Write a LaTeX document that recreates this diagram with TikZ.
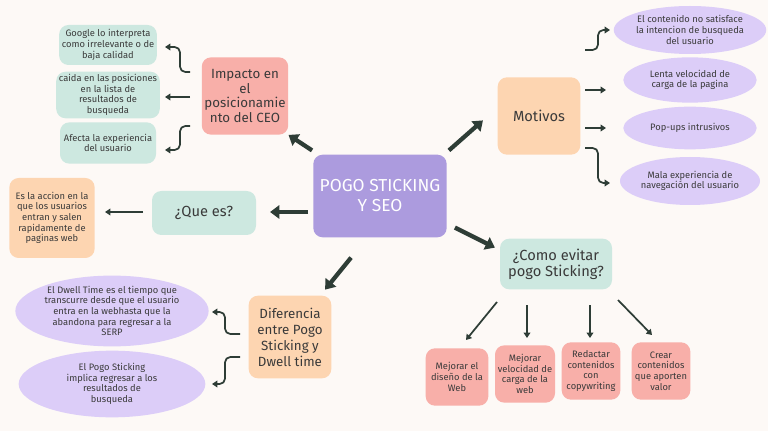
\documentclass[tikz,border=0pt]{standalone}
\usepackage{fontspec}
\setmainfont{Fira Sans}
\usetikzlibrary{arrows.meta,shapes.geometric}
\definecolor{bg}{HTML}{FDF9F6}
\definecolor{teal}{HTML}{CDE8E0}
\definecolor{pinkb}{HTML}{F8AFA9}
\definecolor{peach}{HTML}{FDD5B1}
\definecolor{cpurp}{HTML}{AC9BDE}
\definecolor{lpurp}{HTML}{DCCDF8}
\definecolor{ink}{HTML}{2E3D36}
\definecolor{txt}{HTML}{3A3A3A}
\tikzset{
 box/.style={rounded corners=7pt, inner sep=2pt, align=center, text=txt},
 ell/.style={ellipse, fill=lpurp, inner sep=0pt, align=center, text=txt, font=\fontsize{7}{8}\selectfont},
 big/.style={line width=3.2pt, ink, -{Triangle[length=7pt,width=10pt]}},
 thin/.style={line width=1.3pt, ink, -{Triangle[length=4pt,width=5pt]}, rounded corners=4pt},
}
\begin{document}
\begin{tikzpicture}[x=0.75pt,y=-0.75pt]
\fill[bg] (0,0) rectangle (768,431);
\useasboundingbox (0,0) rectangle (768,431);
% center
\node[box, fill=cpurp, minimum width=100pt, minimum height=62pt, text=white, font=\fontsize{13}{15}\selectfont] (c) at (380,196) {POGO STICKING\\Y SEO};
% impacto
\node[box, fill=pinkb, minimum width=63pt, minimum height=58pt, font=\fontsize{10}{11}\selectfont] (imp) at (245,96) {Impacto en\\el\\posicionamie\\nto del CEO};
\node[box, fill=teal, minimum width=72pt, minimum height=30pt, font=\fontsize{7}{8}\selectfont] (t1) at (108,45) {Google lo interpreta\\como irrelevante o de\\baja calidad};
\node[box, fill=teal, minimum width=72pt, minimum height=32pt, font=\fontsize{7}{8}\selectfont] (t2) at (108,95) {caida en las posiciones\\en la lista de\\resultados de\\busqueda};
\node[box, fill=teal, minimum width=72pt, minimum height=31pt, font=\fontsize{7}{8}\selectfont] (t3) at (108,143) {Afecta la experiencia\\del usuario};
% que es
\node[box, fill=teal, minimum width=78pt, minimum height=33pt, font=\fontsize{11}{13}\selectfont] (q) at (204,213) {¿Que es?};
\node[box, fill=peach, minimum width=64pt, minimum height=60pt, font=\fontsize{7}{8}\selectfont] (qd) at (52,218) {Es la accion en la\\que los usuarios\\entran y salen\\rapidamente de\\paginas web};
% motivos
\node[box, fill=peach, minimum width=62pt, minimum height=58pt, font=\fontsize{11}{13}\selectfont] (m) at (539,116) {Motivos};
\node[ell, minimum width=105pt, minimum height=36pt] (m1) at (690,30) {El contenido no satisface\\la intencion de busqueda\\del usuario};
\node[ell, minimum width=100pt, minimum height=34pt] (m2) at (690,80) {Lenta velocidad de\\carga de la pagina};
\node[ell, minimum width=100pt, minimum height=32pt] (m3) at (690,128) {Pop-ups intrusivos};
\node[ell, minimum width=105pt, minimum height=36pt] (m4) at (690,181) {Mala experiencia de\\navegación del usuario};
% como evitar
\node[box, fill=teal, minimum width=84pt, minimum height=38pt, font=\fontsize{11}{12}\selectfont] (e) at (556,264) {¿Como evitar\\pogo Sticking?};
\node[box, fill=pinkb, minimum width=47pt, minimum height=43pt, font=\fontsize{7}{8}\selectfont] (e1) at (457,377) {Mejorar el\\diseño de la\\Web};
\node[box, fill=pinkb, minimum width=45pt, minimum height=43pt, font=\fontsize{7}{8}\selectfont] (e2) at (525,374) {Mejorar\\velocidad de\\carga de la\\web};
\node[box, fill=pinkb, minimum width=44pt, minimum height=43pt, font=\fontsize{7}{8}\selectfont] (e3) at (591,371) {Redactar\\contenidos\\con\\copywriting};
\node[box, fill=pinkb, minimum width=44pt, minimum height=43pt, font=\fontsize{7}{8}\selectfont] (e4) at (661,371) {Crear\\contenidos\\que aporten\\valor};
% diferencia
\node[box, fill=peach, minimum width=62pt, minimum height=62pt, font=\fontsize{10}{12}\selectfont] (d) at (290,337) {Diferencia\\entre Pogo\\Sticking y\\Dwell time};
\node[ell, minimum width=145pt, minimum height=52pt] (d1) at (112,311) {El Dwell Time es el tiempo que\\transcurre desde que el usuario\\entra en la webhasta que la\\abandona para regresar a la\\SERP};
\node[ell, minimum width=140pt, minimum height=50pt] (d2) at (112,384) {El Pogo Sticking\\implica regresar a los\\resultados de\\busqueda};
% big arrows
\draw[big] (c.north west)++(-1,-4) -- (imp.south east);
\draw[big] (c.north east)++(2,-4) -- ++(34,-30);
\draw[big] (c.west)++(-5,16) -- ++(-38,0);
\draw[big] (c.south east)++(8,-10) -- ++(40,20);
\draw[big] (c.south west)++(38,20) -- ++(-26,32);
% thin arrows
\draw[thin] (190,72) -- (180,72) -- (180,47) -- (165,47);
\draw[thin] (190,97) -- (165,97);
\draw[thin] (190,126) -- (180,126) -- (180,150) -- (165,150);
\draw[thin] (143,212) -- (105,212);
\draw[thin] (585,50) -- (598,50) -- (598,30) -- (610,30);
\draw[thin] (585,90) -- (606,90);
\draw[thin] (585,128) -- (606,128);
\draw[thin] (585,148) -- (598,148) -- (598,183) -- (610,183);
\draw[thin] (497,302) -- (466,340);
\draw[thin] (527,305) -- (527,338);
\draw[thin] (590,305) -- (590,338);
\draw[thin] (618,300) -- (652,335);
\draw[thin] (240,334) -- (225,334) -- (225,312) -- (212,312);
\draw[thin] (240,357) -- (225,357) -- (225,384) -- (212,384);
\end{tikzpicture}
\end{document}
